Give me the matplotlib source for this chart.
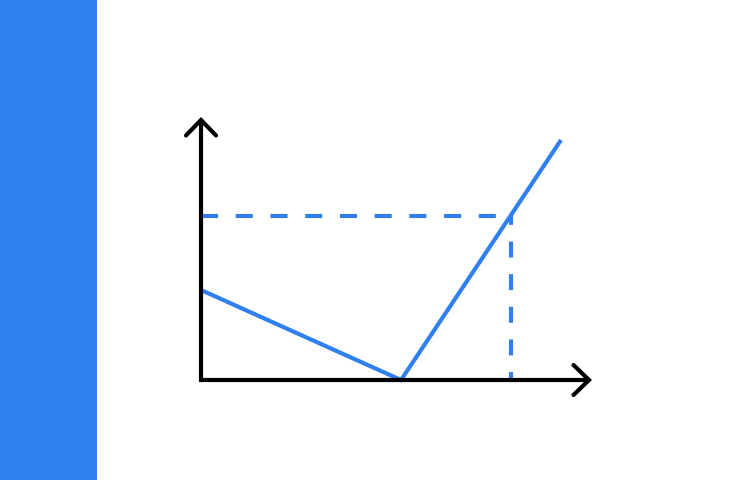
import matplotlib
matplotlib.use("Agg")
import matplotlib.pyplot as plt
from matplotlib.patches import Rectangle

# Data (conceptual units)
curve_x = [0.0, 2.0, 3.6]
curve_y = [0.9, 0.0, 2.4]
marker_x = 3.1
marker_y = 1.64
axis_x_end = 3.88
axis_y_end = 2.6

BLUE = "#2F80ED"
plt.rcParams['lines.scale_dashes'] = False

fig = plt.figure(figsize=(7.41, 4.80), dpi=100)
fig.patch.set_facecolor("white")
ax = fig.add_axes([0, 0, 1, 1])
ax.set_xlim(-2.01, 5.40)
ax.set_ylim(-1.0, 3.8)
ax.axis("off")

# Left blue band
fig.patches.append(Rectangle((0, 0), 97 / 741, 1, transform=fig.transFigure,
                             facecolor=BLUE, edgecolor="none", zorder=0))

# Dashed guides
ax.plot([0, marker_x], [marker_y, marker_y], color=BLUE, lw=3.0,
        dashes=(12.3, 12.7), dash_capstyle="butt", zorder=2)
ax.plot([marker_x, marker_x], [0, marker_y], color=BLUE, lw=3.0,
        linestyle=(5.8, (11.5, 12.0)), dash_capstyle="butt", zorder=2)

# Curve
ax.plot(curve_x, curve_y, color=BLUE, lw=3.0, solid_capstyle="butt",
        solid_joinstyle="miter", zorder=3)

# Axes with arrows
ax.plot([0, 0, axis_x_end], [axis_y_end, 0, 0], color="black", lw=3.0,
        solid_joinstyle="miter", solid_capstyle="butt", zorder=4)
hw, hl = 0.15, 0.155
ax.plot([-hw, 0, hw], [axis_y_end - hl, axis_y_end, axis_y_end - hl], color="black",
        lw=3.0, solid_joinstyle="miter", solid_capstyle="round", zorder=4)
ax.plot([axis_x_end - hl, axis_x_end, axis_x_end - hl], [hw, 0, -hw], color="black",
        lw=3.0, solid_joinstyle="miter", solid_capstyle="round", zorder=4)

fig.savefig("out.png", dpi=100, facecolor="white")
